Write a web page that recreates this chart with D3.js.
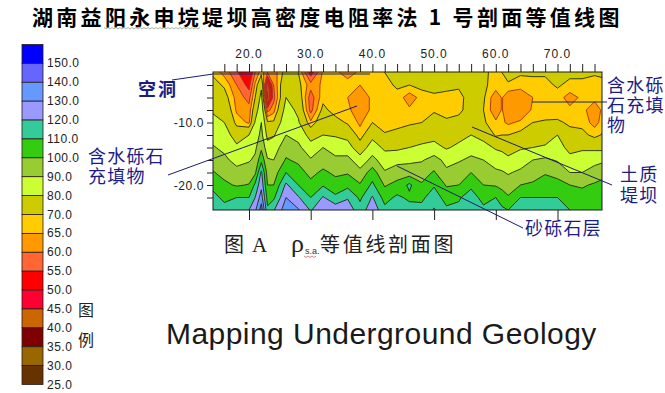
<!DOCTYPE html>
<html>
<head>
<meta charset="utf-8">
<script src="https://d3js.org/d3.v7.min.js"></script>
<style>
html,body{margin:0;padding:0;background:#fff;}
svg{display:block;}
.cn{font-family:"Noto Sans CJK SC";}
.num{font-family:"Liberation Sans",Arial,sans-serif;fill:#222;font-size:12px;}
.note{font-family:"Noto Sans CJK SC";fill:#1c1c86;font-size:18px;letter-spacing:1.2px;}
.lead{stroke:#1c1c70;stroke-width:1;fill:none;}
</style>
</head>
<body>
<svg id="chart" width="665" height="393"></svg>
<script>
const width = 665, height = 393;

// legend, top to bottom
const legendLabels = [150,140,130,120,110,100,90,80,70,65,60,55,50,45,40,35,30,25];
const legendColors = ['#0000ff','#6666ff','#6699ff','#9999ff','#33cc99','#33cc11','#99cc33','#ccff33','#cccc00',
                      '#ffcc00','#ff9900','#ff6633','#ff0000','#ff0033','#cc6600','#800000','#996600','#663300'];

// station along the profile, one entry per column below
const stations = [14,16,18,20,21,22,23,24,26,28,30,32,34,36,38,40,42,44,46,48,50,52,54,56,58,60,61,62,64,66,68,70,72,74,76,78];
// depth of each row
const depths = [-2,-4,-6,-8,-10,-12,-14,-16,-18,-20,-22,-24];

// apparent resistivity, one array per station
const rho14 = [69,73,76,79,83,87,91,96,101,108,113,117];
const rho16 = [63,69,73,77,80,85,88,92,97,102,108,113];
const rho18 = [56,60,63,64,68,75,82,87,93,99,110,116];
const rho20 = [48,53,58,62,64,80,84,89,95,100.5,110,120];
const rho21 = [60,66,70,75,81,84,88,92,98,112,120,128];
const rho22 = [68,78,83,87,90,93,98,107,122,127,135,145];
const rho23 = [60,42,38,58,71,77,84,91,96,100,106,112];
const rho24 = [62,60,58,63,71,79,85,90,95,100,108,119];
const rho26 = [73,78,80,84,87,90,96,101,110,122,130,136];
const rho28 = [70,72,75,78,81,87,92,98,104,110,121,131];
const rho30 = [52,62,57,58,66,76,84,91,97,103,110,119];
const rho32 = [66,66,68,72,76,80,90,95,102,109,121,128];
const rho34 = [66,66,66,67,73,79,86,92,98,104,112,127];
const rho36 = [63,67,65,66,69,77,84,93,99,107,119,126];
const rho38 = [66,65,62,62,64,67,74,84,93,101,108,114];
const rho40 = [66,66,66,66,70,77,85,93,105,112,121,127];
const rho42 = [70,68,66,65,66,71,78,85,91,99,106,113];
const rho44 = [73,71,68,66,67,73,78,87,95,103,112,117];
const rho46 = [74,70,62,66,69,74,80,88,95,112,108,114];
const rho48 = [76,72,67,67,70,75,82,89,96,101,108,113];
const rho50 = [76,72,69,69,74,77,83,94,101,109,115,121];
const rho52 = [75,72,68,68,71,75,79,87,92,99,106,112];
const rho54 = [75,71,68,68,73,77,82,89,95,100,109,112];
const rho56 = [72,73,73,74,76,80,86,92,100,108,114,119];
const rho58 = [72,71,71,70,71,77,83,90,94,100,107,112];
const rho60 = [67,68,61,61,66,69,79,85,92,99,110,114];
const rho61 = [70,69,65.5,65.5,66,70,78,84,91,97,105,112];
const rho62 = [73,69,61,60,64,70,76,82,89,95,101,110];
const rho64 = [71,67,61,60,66,72,79,85,92,100,110,114];
const rho66 = [71,68,65,66,70,75,80,90,97,101,110,113];
const rho68 = [71,68,66,66,71,76,81,92,99,105,110,113];
const rho70 = [72,71,67,67,71,80,84,89,97,103,110,113];
const rho72 = [72,68,63,66,69,72,77,83,90,100,106,110];
const rho74 = [72,68,66,66,68,72,78,86,90,99,103,107];
const rho76 = [71,67,66,63,63,68,78,86,95,101,104,107];
const rho78 = [72,68,67,67,69,72,77,89,98,103,105,98];

const columns = [rho14,rho16,rho18,rho20,rho21,rho22,rho23,rho24,rho26,rho28,rho30,rho32,rho34,rho36,rho38,rho40,rho42,rho44,
                 rho46,rho48,rho50,rho52,rho54,rho56,rho58,rho60,rho61,rho62,rho64,rho66,rho68,rho70,rho72,rho74,rho76,rho78];

const topTicks = d3.range(16,78,2);
const labelTicks = [20,30,40,50,60,70];
const sideTicks = d3.range(-4,-24,-2);
const sideLabels = [-10,-20];

const svg = d3.select('#chart');

// plot frame
const plotL = 213, plotR = 602, plotT = 72, plotB = 210;
const xScale = d3.scaleLinear().domain([20,70]).range([249,557.5]);
const yScale = d3.scaleLinear().domain([-10,-20]).range([122.5,185]);

// grid index -> pixel, cell centres sit at i+0.5
const xIndex = d3.scaleLinear().domain(stations.map((d,i)=>i+0.5)).range(stations.map(d=>xScale(d)));
const yIndex = d3.scaleLinear().domain(depths.map((d,i)=>i+0.5)).range(depths.map(d=>yScale(d)));

const nx = stations.length, ny = depths.length;
const grid = [];
depths.forEach((d,j)=>{ columns.forEach(c=>grid.push(c[j])) });

const thresholds = legendLabels.slice().reverse();
const bandColor = d3.scaleOrdinal().domain(legendLabels).range(legendColors);

const contours = d3.contours().size([nx,ny]).thresholds(thresholds)(grid);

const project = d3.geoPath().projection(d3.geoTransform({
    point: function(x,y){ this.stream.point(xIndex(x), yIndex(y)) }
}));

svg.append('defs').append('clipPath').attr('id','plotClip')
    .append('rect').attr('x',plotL).attr('y',plotT).attr('width',plotR-plotL).attr('height',plotB-plotT);

svg.append('g').attr('clip-path','url(#plotClip)')
    .selectAll('path')
    .data(contours)
    .enter()
    .append('path')
        .attr('d',project)
        .attr('fill',d=>bandColor(d.value))
        .attr('stroke',d=>d.value<=65?'#a5301c':'#1d2b10')
        .attr('stroke-width',0.9)
        .attr('stroke-linejoin','round');

svg.append('rect')
    .attr('x',plotL).attr('y',plotT).attr('width',plotR-plotL).attr('height',plotB-plotT)
    .attr('fill','none').attr('stroke','#1b1b1b').attr('stroke-width',1);

// axes
const axisTop = d3.axisTop(xScale).tickValues(topTicks).tickSize(8).tickFormat(()=>'');
const axisBottom = d3.axisBottom(xScale).tickValues(labelTicks).tickSize(10).tickFormat(()=>'');
const axisLeft = d3.axisLeft(yScale).tickValues(sideTicks).tickSize(6).tickFormat(()=>'');

[svg.append('g').attr('transform',`translate(0,${plotT})`).call(axisTop),
 svg.append('g').attr('transform',`translate(0,${plotB})`).call(axisBottom),
 svg.append('g').attr('transform',`translate(${plotL},0)`).call(axisLeft)]
    .forEach(g=>{
        g.select('.domain').remove();
        g.selectAll('line').attr('stroke','#222');
    });

svg.append('g').selectAll('text')
    .data(labelTicks)
    .enter()
    .append('text')
        .attr('class','num')
        .attr('x',d=>xScale(d))
        .attr('y',58)
        .attr('text-anchor','middle')
        .attr('letter-spacing','1px')
        .text(d=>d.toFixed(1));

svg.append('g').selectAll('text')
    .data(sideLabels)
    .enter()
    .append('text')
        .attr('class','num')
        .attr('x',204)
        .attr('y',d=>yScale(d)+4.5)
        .attr('text-anchor','end')
        .attr('letter-spacing','0.6px')
        .text(d=>d.toFixed(1));

// legend
const legendY = d3.scaleBand().domain(legendLabels).range([44.5,384.5]);

svg.append('g').selectAll('rect')
    .data(legendLabels)
    .enter()
    .append('rect')
        .attr('x',22)
        .attr('y',d=>legendY(d))
        .attr('width',21)
        .attr('height',legendY.bandwidth())
        .attr('fill',d=>bandColor(d))
        .attr('stroke','#2a1a1a')
        .attr('stroke-width',0.8);

svg.append('g').selectAll('text')
    .data(legendLabels)
    .enter()
    .append('text')
        .attr('class','num')
        .attr('x',47)
        .attr('y',d=>legendY(d)+legendY.bandwidth()+4)
        .attr('letter-spacing','0.5px')
        .text(d=>d.toFixed(1));

// leader lines
const leaders = [
    [172,80,213,74],[213,74,370,74],
    [168,175,357,106],
    [532,102,607,102],
    [472,127,612,185],
    [397,166,523,228]
];
svg.append('g').selectAll('line')
    .data(leaders)
    .enter()
    .append('line')
        .attr('class','lead')
        .attr('x1',d=>d[0]).attr('y1',d=>d[1])
        .attr('x2',d=>d[2]).attr('y2',d=>d[3]);

// text blocks
const addText = (str,x,y,cls,size,extra)=>{
    const t = svg.append('text').attr('class',cls).attr('x',x).attr('y',y).text(str);
    if(size) t.style('font-size',size+'px');
    if(extra) extra(t);
    return t;
};
// several lines inside one text element
const addLines = (lines,x,y,step)=>{
    svg.append('text').attr('class','note').attr('x',x).attr('y',y)
        .selectAll('tspan')
        .data(lines)
        .enter()
        .append('tspan')
            .attr('x',x)
            .attr('dy',(d,i)=>i===0?0:step)
            .text(d=>d);
};
// the wavy underline left in the source image
const squiggle = (x0,x1,y,color)=>{
    const pts = d3.range(x0,x1,2).map((x,i)=>[x,y+(i%2)*1.5]);
    svg.append('path').attr('d',d3.line()(pts)).attr('fill','none').attr('stroke',color).attr('stroke-width',0.7);
};

addText('湖南益阳永申垸堤坝高密度电阻率法 1 号剖面等值线图',32,24.5,'cn',21,t=>t.attr('font-weight','700').attr('letter-spacing','3.3px').attr('fill','#000'));
squiggle(104,202,27.5,'#7f9a7f');

addText('空洞',138,96,'note',18,t=>t.attr('font-weight','700').style('letter-spacing','2px'));
addLines(['含水砾石','充填物'],88,163,20);
addLines(['含水砾','石充填','物'],607,92,20);
addLines(['土质','堤坝'],620,181,21);
addText('砂砾石层',525,235,'note');

addText('图',78,316,'cn',16,t=>t.attr('fill','#222'));
addText('例',78,346,'cn',16,t=>t.attr('fill','#222'));

addText('图',224,252,'cn',20,t=>t.attr('fill','#222'));
addText('A',252,252,'cn',21,t=>t.style('font-family','"Liberation Serif"').attr('fill','#222'));
addText('ρ',291,252,'cn',26,t=>t.style('font-family','"Liberation Serif"').attr('fill','#222'));
addText('s.a.',305,254,'cn',9,t=>t.style('font-family','"Liberation Sans"').attr('fill','#333'));
squiggle(304,318,256,'#c0504d');
addText('等值线剖面图',320,252,'cn',20,t=>t.attr('letter-spacing','2.7px').attr('fill','#222'));

addText('Mapping Underground Geology',166,344,'cn',30,t=>t.style('font-family','"Liberation Sans"').attr('letter-spacing','0.45px').attr('fill','#1a1a1a'));
</script>
</body>
</html>
